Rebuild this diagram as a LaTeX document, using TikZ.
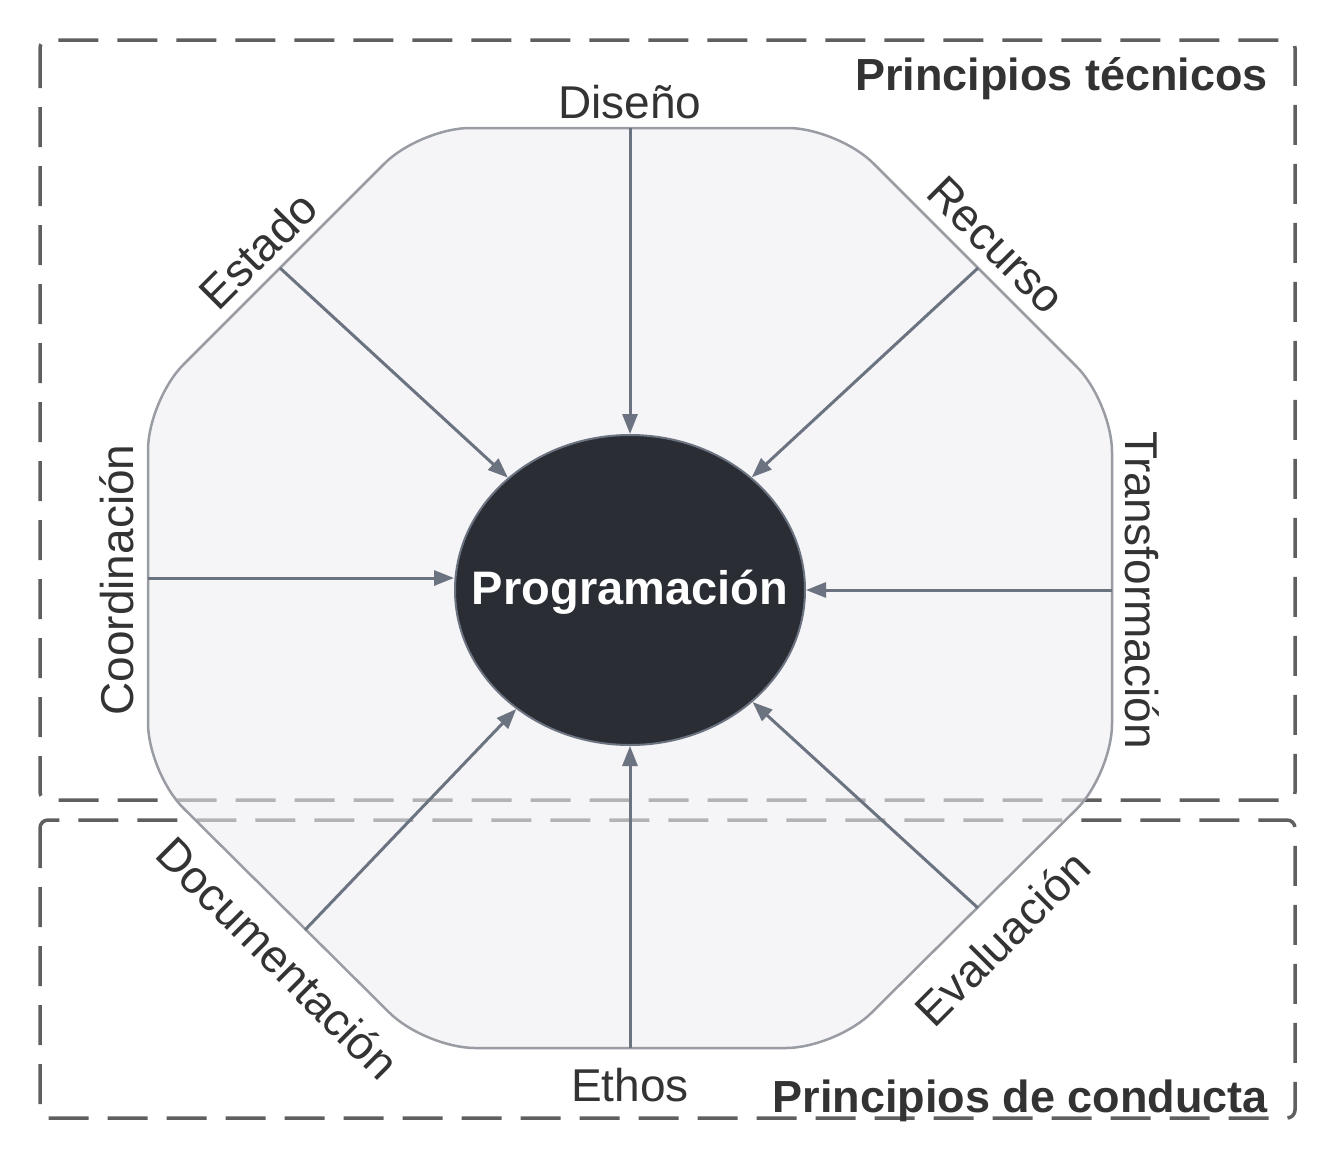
\documentclass[tikz,border=0pt]{standalone}
\usepackage{fontspec}
\setmainfont{Liberation Sans}
\usetikzlibrary{shapes.geometric,arrows.meta}

\definecolor{frame}{HTML}{5F5F5F}
\definecolor{octline}{HTML}{9A9CA3}
\definecolor{octfill}{HTML}{EEEEF2}
\definecolor{feedline}{HTML}{6B7280}
\definecolor{core}{HTML}{2A2D34}
\definecolor{ink}{HTML}{333333}

\tikzset{
	group/.style={draw=frame, line width=3.5pt, dash pattern=on 40pt off 19pt, rounded corners=8pt},
	octagon/.style={draw=octline, line width=2.5pt, fill=octfill, fill opacity=0.59, rounded corners=50pt},
	feed/.style={draw=feedline, line width=3pt, -{Triangle[length=20pt,width=15pt]}},
	aspect/.style={text=ink, font=\fontsize{46}{52}\selectfont, inner sep=0pt},
	title/.style={text=ink, font=\fontsize{45}{52}\selectfont\bfseries, inner sep=0pt},
}

\begin{document}
\begin{tikzpicture}[x=1pt, y=-1pt]
	\useasboundingbox (0, 0) rectangle (1335, 1160);
	\draw[group] (40, 40) rectangle (1295, 800);
	\draw[group] (40, 820) rectangle (1295, 1118);
	\draw[octagon] (630, 128) -- (838, 128) -- (1112, 402) -- (1112, 774) -- (836, 1048)
		-- (425, 1048) -- (148, 773) -- (148, 400) -- (420, 128) -- cycle;
	
	\coordinate (dis) at (630, 128);
	\coordinate (rec) at (978, 268);
	\coordinate (tra) at (1112, 590);
	\coordinate (eva) at (978, 908);
	\coordinate (eth) at (630, 1048);
	\coordinate (doc) at (305, 930);
	\coordinate (coo) at (148, 578);
	\coordinate (est) at (280, 268);
	
	\node[ellipse, minimum width=350pt, minimum height=310pt, inner sep=0pt, fill=core,
		draw=feedline, line width=2pt] (prog) at (630, 590) {};
	\node[text=white, font=\fontsize{47}{54}\selectfont\bfseries, inner sep=0pt] (prog-t) at (630, 592) {Programación};
	
	\draw[feed] (dis) -- (prog);
	\draw[feed] (rec) -- (prog);
	\draw[feed] (tra) -- (prog);
	\draw[feed] (eva) -- (prog);
	\draw[feed] (eth) -- (prog);
	\draw[feed] (doc) -- (prog);
	\draw[feed] (coo) -- (coo -| prog.west);
	\draw[feed] (est) -- (prog);
	
	\node[aspect] (l-dis) at (630, 102) {Diseño};
	\node[aspect, rotate=-45] (l-rec) at (996, 245) {Recurso};
	\node[aspect, rotate=-90] (l-tra) at (1142, 590) {Transformación};
	\node[aspect, rotate=45] (l-eva) at (1002, 938) {Evaluación};
	\node[aspect] (l-eth) at (630, 1085) {Ethos};
	\node[aspect, rotate=-45] (l-doc) at (278, 958) {Documentación};
	\node[aspect, rotate=90] (l-coo) at (117, 580) {Coordinación};
	\node[aspect, rotate=45] (l-est) at (258, 250) {Estado};
	
	\node[title, anchor=base east] (tec) at (1268, 90) {Principios técnicos};
	\node[title, anchor=base east] (con) at (1268, 1112) {Principios de conducta};
\end{tikzpicture}
\end{document}
